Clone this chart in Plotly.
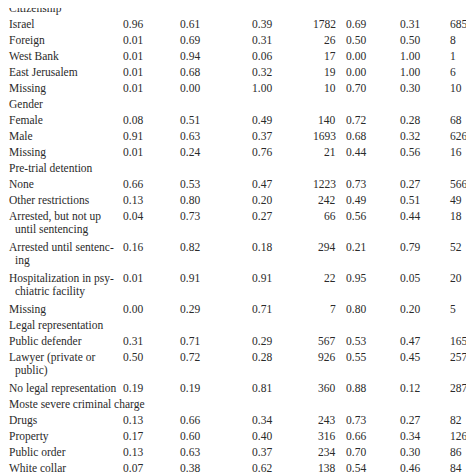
import plotly.graph_objects as go

# sections and rows of the table (label, share, p1, p2, n, q1, q2, m)
sections = ["Citizenship", "Gender", "Pre-trial detention", "Legal representation",
            "Moste severe criminal charge"]
row_section = [0, 0, 0, 0, 0, 1, 1, 1, 2, 2, 2, 2, 2, 2, 3, 3, 3, 4, 4, 4, 4, 4]
labels = ["Israel", "Foreign", "West Bank", "East Jerusalem", "Missing",
          "Female", "Male", "Missing",
          "None", "Other restrictions", "Arrested, but not up|until sentencing",
          "Arrested until sentenc-|ing", "Hospitalization in psy-|chiatric facility", "Missing",
          "Public defender", "Lawyer (private or|public)", "No legal representation",
          "Drugs", "Property", "Public order", "White collar", "Violent"]
share = ["0.96", "0.01", "0.01", "0.01", "0.01", "0.08", "0.91", "0.01",
         "0.66", "0.13", "0.04", "0.16", "0.01", "0.00", "0.31", "0.50", "0.19",
         "0.13", "0.17", "0.13", "0.07", "0.42"]
p1 = ["0.61", "0.69", "0.94", "0.68", "0.00", "0.51", "0.63", "0.24",
      "0.53", "0.80", "0.73", "0.82", "0.91", "0.29", "0.71", "0.72", "0.19",
      "0.66", "0.60", "0.63", "0.38", "0.63"]
p2 = ["0.39", "0.31", "0.06", "0.32", "1.00", "0.49", "0.37", "0.76",
      "0.47", "0.20", "0.27", "0.18", "0.91", "0.71", "0.29", "0.28", "0.81",
      "0.34", "0.40", "0.37", "0.62", "0.37"]
n = ["1782", "26", "17", "19", "10", "140", "1693", "21",
     "1223", "242", "66", "294", "22", "7", "567", "926", "360",
     "243", "316", "234", "138", "779"]
q1 = ["0.69", "0.50", "0.00", "0.00", "0.70", "0.72", "0.68", "0.44",
      "0.73", "0.49", "0.56", "0.21", "0.95", "0.80", "0.53", "0.55", "0.88",
      "0.73", "0.66", "0.70", "0.54", "0.74"]
q2 = ["0.31", "0.50", "1.00", "1.00", "0.30", "0.28", "0.32", "0.56",
      "0.27", "0.51", "0.44", "0.79", "0.05", "0.20", "0.47", "0.45", "0.12",
      "0.27", "0.34", "0.30", "0.46", "0.26"]
m = ["685", "8", "1", "6", "10", "68", "626", "16",
     "566", "49", "18", "52", "20", "5", "165", "257", "287",
     "82", "126", "86", "84", "287"]

FONT = dict(family="Liberation Serif", size=11.5, color="#2a2a2a")
BODY = 8  # the html page puts the figure 8px in from its left edge
TOP = 4   # vertical shift of the window, found by comparing renders

colx = {"share": 122, "p1": 179, "p2": 251, "n": 337, "q1": 345, "q2": 399, "m": 449}
cols = {"share": share, "p1": p1, "p2": p2, "n": n, "q1": q1, "q2": q2, "m": m}

fig = go.Figure()


def put(x, y, text, anchor="left"):
    fig.add_annotation(x=max(x, BODY), y=max(y, TOP), xref="x", yref="y", text=text,
                       showarrow=False, xanchor=anchor, yanchor="middle", font=FONT,
                       borderpad=0)


y = 4
cur = -1
for i, lab in enumerate(labels):
    if row_section[i] != cur:
        cur = row_section[i]
        put(6 if cur == 4 else 0, y, sections[cur])
        y += 16
    parts = lab.split("|")
    put(6, y, parts[0])
    if len(parts) > 1:
        put(14, y + 13, parts[1])
    for k in cols:
        put(colx[k], y, cols[k][i], "right" if k == "n" else "left")
    y += 31 if len(parts) > 1 else 16

fig.update_layout(
    width=474, height=474,
    margin=dict(l=0, r=0, t=0, b=0),
    paper_bgcolor="white", plot_bgcolor="white",
    showlegend=False,
    xaxis=dict(range=[BODY, 474 + BODY], visible=False, fixedrange=True),
    yaxis=dict(range=[474 + TOP, TOP], visible=False, fixedrange=True),
)
fig.write_html("out.html")
